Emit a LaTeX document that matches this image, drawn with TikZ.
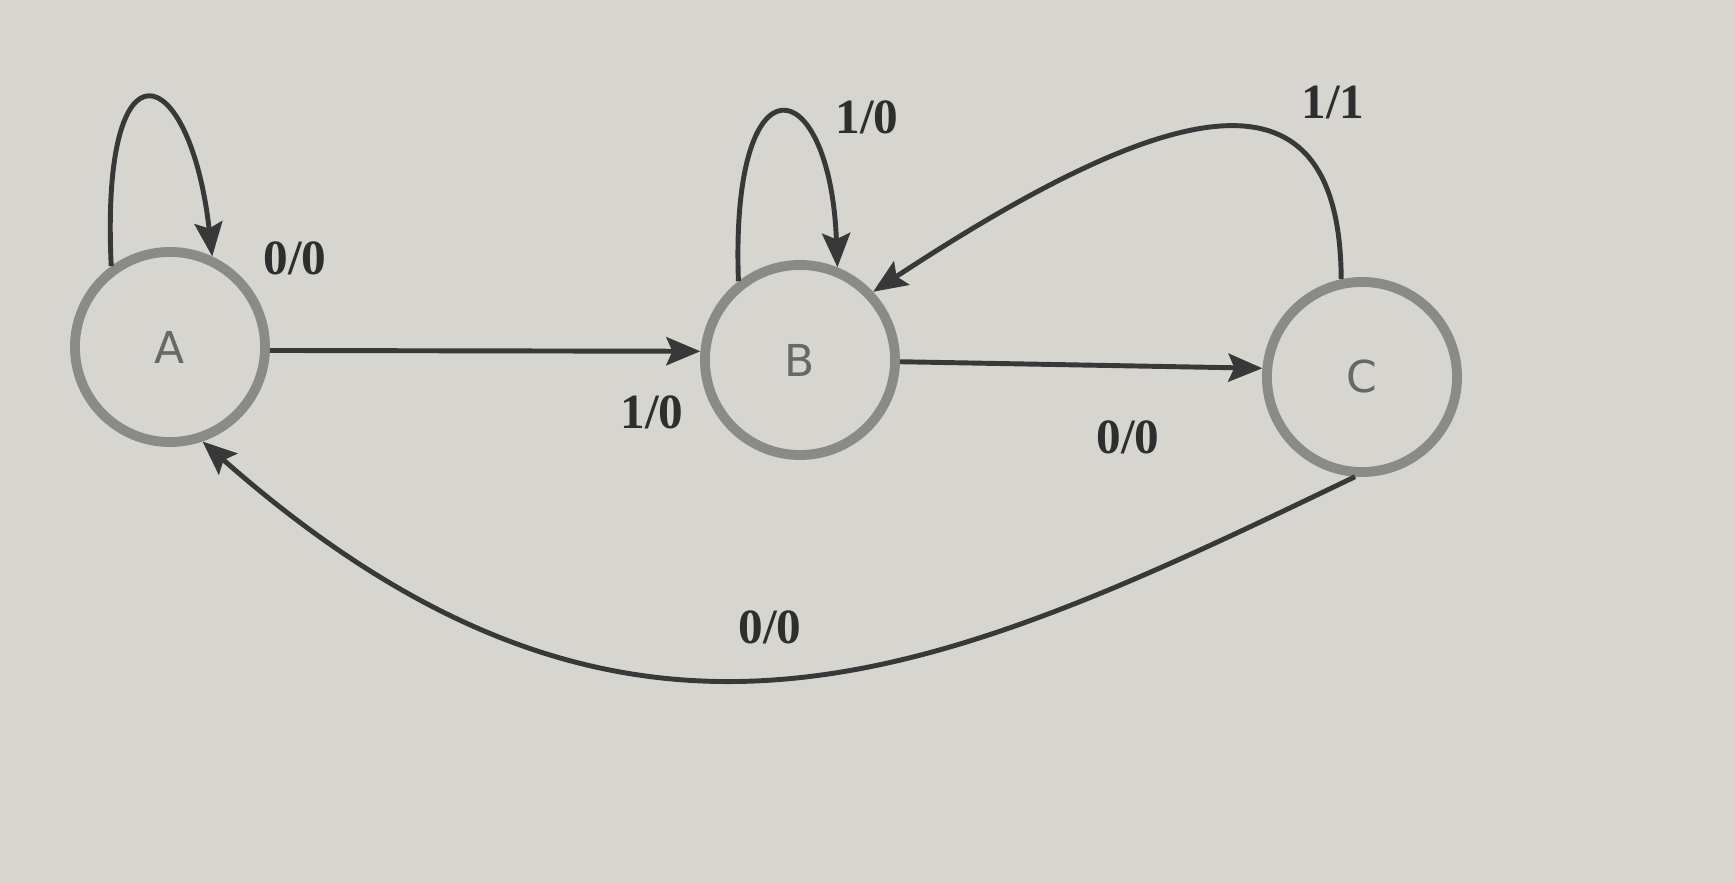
\documentclass[tikz,border=0pt]{standalone}
\usepackage{fontspec}
\setmainfont{Liberation Serif}
\newfontfamily\statefont{DejaVu Sans}
\usetikzlibrary{arrows.meta}
\definecolor{bgc}{HTML}{D7D5D0}
\definecolor{statec}{HTML}{8A8A88}
\definecolor{edgec}{HTML}{383838}
\definecolor{labc}{HTML}{2E2E2E}
\begin{document}
\begin{tikzpicture}[x=0.01cm,y=-0.01cm,
  state/.style={circle,draw=statec,line width=2.8pt,minimum size=1.9cm,inner sep=0pt,
     text=statec!75!black,font=\statefont\fontsize{12.5}{14}\selectfont},
  trans/.style={draw=edgec,line width=1.4pt,-{Stealth[length=0.34cm,width=0.28cm,inset=0.06cm]}},
  lab/.style={text=labc,font=\bfseries\fontsize{14}{16}\selectfont,inner sep=0pt}]
\fill[bgc] (0,0) rectangle (1735,883);
\useasboundingbox (0,0) rectangle (1735,883);
\node[state] (A) at (170,347) {A};
\node[state] (B) at (800,360) {B};
\node[state] (C) at (1362,377) {C};
% self loops
\draw[trans] (A.126) .. controls (100,30) and (190,60) .. (A.65);
\draw[trans] (B.128) .. controls (730,50) and (830,70) .. (B.68);
% straight
\draw[trans] (A.-2) -- (B.175);
\draw[trans] (B.-1) -- (C.175);
% C -> B
\draw[trans] (C.102) .. controls (1340,60) and (1180,90) .. (B.43);
% C -> A
\draw[trans] (C.266) .. controls (935,679) and (632,820) .. (A.289);
% labels
\node[lab] (l1) at (295,258) {0/0};
\node[lab] (l2) at (652,412) {1/0};
\node[lab] (l3) at (867,117) {1/0};
\node[lab] (l4) at (1128,437) {0/0};
\node[lab] (l5) at (1333,103) {1/1};
\node[lab] (l6) at (770,627) {0/0};
\end{tikzpicture}
\end{document}
